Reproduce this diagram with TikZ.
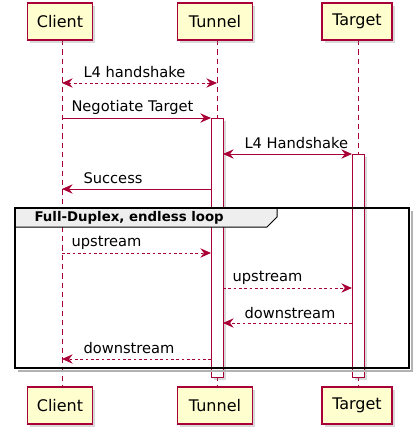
\documentclass[tikz,border=0pt]{standalone}
\usepackage{fontspec}
\setmainfont{DejaVu Sans}
\usetikzlibrary{arrows.meta,shadows}

\definecolor{umlred}{RGB}{168,0,54}
\definecolor{umlfill}{RGB}{254,254,206}
\definecolor{grpfill}{RGB}{238,238,238}

\tikzset{every picture/.style={line width=0.75pt}}
\tikzset{
  part/.style={draw=umlred, fill=umlfill, line width=0.9pt, minimum height=27.75pt,
    inner sep=0pt, font=\fontsize{12}{14}\selectfont,
    drop shadow={shadow xshift=2pt, shadow yshift=-2pt, opacity=0.3}},
  lifeline/.style={draw=umlred, line width=0.6pt, dash pattern=on 4pt off 3pt},
  actbox/.style={draw=umlred, fill=white, line width=0.75pt,
    drop shadow={shadow xshift=2pt, shadow yshift=-2pt, opacity=0.3}},
  msg/.style={draw=umlred, line width=0.75pt, -{Stealth[length=8pt,width=7pt,inset=2.7pt]}},
  both/.style={{Stealth[length=8pt,width=7pt,inset=2.7pt]}-{Stealth[length=8pt,width=7pt,inset=2.7pt]}},
  reply/.style={msg, dash pattern=on 2pt off 2pt},
  lbl/.style={anchor=west, inner sep=0pt, font=\fontsize{11}{13}\selectfont}
}

\begin{document}
\begin{tikzpicture}[x=0.75pt,y=0.75pt,yscale=-1]
\useasboundingbox (0,0) rectangle (420,436);

% lifelines
\draw[lifeline] (62,40) -- (62,387);
\draw[lifeline] (217,40) -- (217,387);
\draw[lifeline] (358,40) -- (358,387);

% participants
\node[part, minimum width=48.75pt] (clientTop) at (60,21.5) {Client};
\node[part, minimum width=56.25pt] (tunnelTop) at (215,21.5) {Tunnel};
\node[part, minimum width=52.5pt] (targetTop) at (357,21.5) {Target};
\node[part, minimum width=48.75pt] (clientBot) at (60,405.5) {Client};
\node[part, minimum width=56.25pt] (tunnelBot) at (215,405.5) {Tunnel};
\node[part, minimum width=52.5pt] (targetBot) at (357,405.5) {Target};

% activations
\draw[actbox] (211,118) rectangle (223,377);
\draw[actbox] (352,154) rectangle (364,377);

% loop group
\draw[black!30, line width=1.5pt] (412,211) -- (412,371) -- (18,371);
\draw[line width=1.5pt] (15,208) rectangle (409,368);
\draw[line width=0.75pt, fill=grpfill] (15,208) -- (277,208) -- (277,217) -- (267,227) -- (15,227) -- cycle;
\draw[line width=1.5pt] (15,208) -- (409,208) (15,208) -- (15,227);
\node[lbl, font=\bfseries\fontsize{10}{12}\selectfont] (loopTitle) at (34,217.5) {Full-Duplex, endless loop};

% message end points
\coordinate (hsA) at (62,83);   \coordinate (hsB) at (217,83);
\coordinate (ngA) at (62,118);  \coordinate (ngB) at (211,118);
\coordinate (thA) at (223,154); \coordinate (thB) at (352,154);
\coordinate (okA) at (211,189); \coordinate (okB) at (62,189);
\coordinate (u1A) at (62,253);  \coordinate (u1B) at (211,253);
\coordinate (u2A) at (223,288); \coordinate (u2B) at (352,288);
\coordinate (d1A) at (352,323); \coordinate (d1B) at (223,323);
\coordinate (d2A) at (211,359); \coordinate (d2B) at (62,359);

% messages
\draw[reply, both] (hsA) -- (hsB);
\draw[msg] (ngA) -- (ngB);
\draw[msg, both] (thA) -- (thB);
\draw[msg] (okA) -- (okB);
\draw[reply] (u1A) -- (u1B);
\draw[reply] (u2A) -- (u2B);
\draw[reply] (d1A) -- (d1B);
\draw[reply] (d2A) -- (d2B);

% labels
\node[lbl] (hsLbl) at (83,72) {L4 handshake};
\node[lbl] (ngLbl) at (71,107.5) {Negotiate Target};
\node[lbl] (thLbl) at (244,143) {L4 Handshake};
\node[lbl] (okLbl) at (83,178) {Success};
\node[lbl] (u1Lbl) at (71,243) {upstream};
\node[lbl] (u2Lbl) at (232,278) {upstream};
\node[lbl] (d1Lbl) at (244,313) {downstream};
\node[lbl] (d2Lbl) at (83,348) {downstream};

\end{tikzpicture}
\end{document}
